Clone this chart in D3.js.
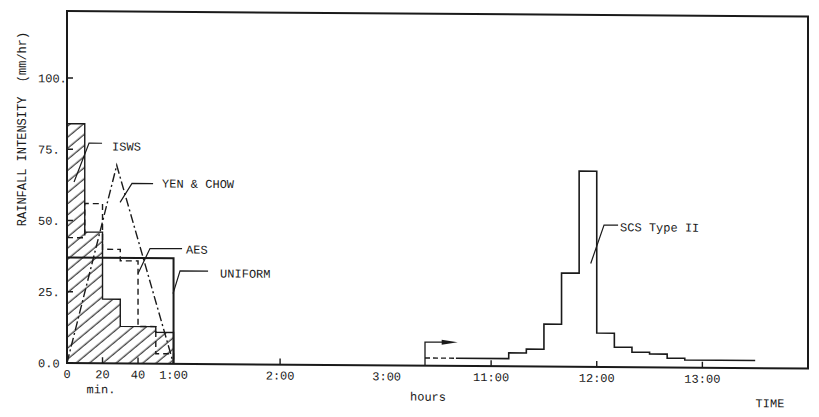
<!DOCTYPE html>
<html>
<head>
<meta charset="utf-8">
<script src="https://cdn.jsdelivr.net/npm/d3@7"></script>
<style>
  html, body { margin: 0; padding: 0; background: #fff; }
  svg { display: block; }
  text { font-family: "Liberation Mono", "DejaVu Sans Mono", monospace; fill: #1a1a1a; white-space: pre; }
</style>
</head>
<body>
<svg id="chart" width="819" height="417"></svg>
<script>
// ---------------- DATA ----------------
// y axis
const yTickValues = [0, 25, 50, 75, 100];
const yTickLabels = ["0.0", "25.", "50.", "75.", "100."];
// x axis (time in hours; a break separates 3:22 and 10:22)
const xTickValues = [0, 1/3, 2/3, 1, 2, 3, 11, 12, 13];
const xTickLabels = ["0", "20", "40", "1:00", "2:00", "3:00", "11:00", "12:00", "13:00"];
const xTickMarks  = [1/3, 2/3, 2, 11, 12, 13];
const axisBreak = [3.36, 10.374];   // hours where the time axis jumps

// ISWS hyetograph (minutes, mm/hr)
const iswsEdges  = [0, 10, 20, 30, 50, 60];
const iswsValues = [84, 46, 22.5, 13, 11];
// AES hyetograph
const aesEdges  = [0, 10, 20, 30, 40, 50, 60];
const aesValues = [44, 56, 40, 36, 13, 3.5];
// Yen & Chow triangular hyetograph
const yenTimes  = [0, 28, 60];
const yenValues = [0, 69.5, 0];
// Uniform
const uniformEdges  = [0, 60];
const uniformValues = [37];
// SCS Type II (clock time, mm/hr)
const scsEdges  = ["10:40","11:10","11:20","11:30","11:40","11:50","12:00","12:10","12:20","12:30","12:40","12:50","13:30"];
const scsValues = [2.7, 4.7, 6.1, 14.9, 32.9, 68.7, 11.9, 7.0, 5.3, 4.7, 3.3, 2.7];
const scsLeadValue = 2.7;
const arrowHeight = 8.3;
const arrowEnd = "10:41";

// ---------------- LAYOUT ----------------
const W = 819, H = 417;
const plot = { left: 67, right: 808, top: 11, bottom: 363 };

const svg = d3.select("#chart");
svg.append("rect").attr("width", W).attr("height", H).attr("fill", "#fff");

const defs = svg.append("defs");
const pat = defs.append("pattern")
  .attr("id", "hatch").attr("patternUnits", "userSpaceOnUse")
  .attr("width", 10).attr("height", 8.5)
  .attr("patternTransform", "rotate(-40)");
pat.append("line").attr("x1", -1).attr("x2", 11).attr("y1", 4).attr("y2", 4)
  .attr("stroke", "#1a1a1a").attr("stroke-width", 1.1);

// scan-like slight skew
const g = svg.append("g")
  .attr("transform", `translate(${plot.left},0) skewY(0.43) translate(${-plot.left},0)`);

const x = d3.scaleLinear()
  .domain([0, axisBreak[0], axisBreak[1], 14.0])
  .range([plot.left, 425, 425, plot.right]);
const y = d3.scaleLinear().domain([0, 100]).range([plot.bottom, 78]);

const min = m => m / 60;
const clock = s => { const [h, m] = s.split(":").map(Number); return h + m / 60; };

function steps(edges, values, fromZero, toZero) {
  const pts = [];
  if (fromZero) pts.push([edges[0], 0]);
  values.forEach((v, i) => { pts.push([edges[i], v]); pts.push([edges[i + 1], v]); });
  if (toZero) pts.push([edges[edges.length - 1], 0]);
  return pts;
}
const line = d3.line().x(d => x(d[0])).y(d => y(d[1]));

// ISWS hatched
const iswsPts = steps(iswsEdges.map(min), iswsValues, true, true);
g.append("path").attr("d", line(iswsPts) + "Z")
  .attr("fill", "url(#hatch)").attr("stroke", "none");
g.append("path").attr("d", line(iswsPts))
  .attr("fill", "none").attr("stroke", "#1a1a1a").attr("stroke-width", 1.4);

// AES dashed
g.append("path").attr("d", line(steps(aesEdges.map(min), aesValues, false, true)))
  .attr("fill", "none").attr("stroke", "#1a1a1a").attr("stroke-width", 1.4)
  .attr("stroke-dasharray", "6,4");

// Yen & Chow dash-dot
g.append("path").attr("d", line(yenTimes.map((t, i) => [min(t), yenValues[i]])))
  .attr("fill", "none").attr("stroke", "#1a1a1a").attr("stroke-width", 1.4)
  .attr("stroke-dasharray", "9,3,2,3");

// Uniform
g.append("path").attr("d", line(steps(uniformEdges.map(min), uniformValues, false, true)))
  .attr("fill", "none").attr("stroke", "#1a1a1a").attr("stroke-width", 2);

// SCS Type II
const scsT = scsEdges.map(clock);
g.append("path").attr("d", line([[axisBreak[1], scsLeadValue], [scsT[0], scsLeadValue]]))
  .attr("fill", "none").attr("stroke", "#1a1a1a").attr("stroke-width", 1.4)
  .attr("stroke-dasharray", "5,3");
g.append("path").attr("d", line(steps(scsT, scsValues, false, false)))
  .attr("fill", "none").attr("stroke", "#1a1a1a").attr("stroke-width", 1.6);

// start arrow
const aX0 = x(axisBreak[1]), aY0 = y(0), aY1 = y(arrowHeight), aX1 = x(clock(arrowEnd));
g.append("path").attr("d", `M${aX0},${aY0}V${aY1}H${aX1 - 14}`)
  .attr("fill", "none").attr("stroke", "#1a1a1a").attr("stroke-width", 1.3);
g.append("path").attr("d", `M${aX1 - 16},${aY1 - 2.5}L${aX1},${aY1}L${aX1 - 16},${aY1 + 2.5}Z`)
  .attr("fill", "#1a1a1a");

// frame
g.append("rect").attr("x", plot.left).attr("y", plot.top)
  .attr("width", plot.right - plot.left).attr("height", plot.bottom - plot.top)
  .attr("fill", "none").attr("stroke", "#1a1a1a").attr("stroke-width", 2);

// y ticks
yTickValues.forEach((v, i) => {
  g.append("line").attr("x1", plot.left).attr("x2", plot.left + 6)
    .attr("y1", y(v)).attr("y2", y(v)).attr("stroke", "#1a1a1a").attr("stroke-width", 1.4);
  g.append("text").attr("x", 38).attr("y", y(v) + 4.5)
    .attr("font-size", 12).text(yTickLabels[i]);
});
// x ticks
xTickMarks.forEach(t => {
  g.append("line").attr("x1", x(t)).attr("x2", x(t))
    .attr("y1", plot.bottom).attr("y2", plot.bottom - 6)
    .attr("stroke", "#1a1a1a").attr("stroke-width", 1.4);
});
xTickValues.forEach((t, i) => {
  g.append("text").attr("x", x(t)).attr("y", 378)
    .attr("text-anchor", "middle").attr("font-size", 12).text(xTickLabels[i]);
});

// axis titles
g.append("text").attr("x", 101).attr("y", 393).attr("text-anchor", "middle")
  .attr("font-size", 12).text("min.");
g.append("text").attr("x", 428).attr("y", 398).attr("text-anchor", "middle")
  .attr("font-size", 12).text("hours");
g.append("text").attr("x", 770).attr("y", 402).attr("text-anchor", "middle")
  .attr("font-size", 12).text("TIME");
svg.append("text").attr("transform", "translate(26,129) rotate(-90)")
  .attr("text-anchor", "middle").attr("font-size", 12)
  .text("RAINFALL INTENSITY  (mm/hr)");

// annotations: leader polyline and text anchor (hours, mm/hr)
const notes = [
  { label: "ISWS",        p: [[0.066, 63.5], [0.207, 77.2], [0.329, 77.2]], t: [0.423, 76.3] },
  { label: "YEN & CHOW",  p: [[0.498, 56.5], [0.610, 63.2], [0.808, 63.2]], t: [0.892, 63.4] },
  { label: "AES",         p: [[0.667, 31.6], [0.779, 40.4], [1.080, 40.4]], t: [1.117, 40.3] },
  { label: "UNIFORM",     p: [[0.995, 24.6], [1.061, 32.6], [1.324, 32.6]], t: [1.437, 32.0] },
  { label: "SCS Type II", p: [[11.943, 36.3], [12.069, 49.8], [12.202, 49.8]], t: [12.221, 49.3] }
];
notes.forEach(n => {
  g.append("path").attr("d", line(n.p)).attr("fill", "none")
    .attr("stroke", "#1a1a1a").attr("stroke-width", 1.2);
  g.append("text").attr("x", x(n.t[0])).attr("y", y(n.t[1]) + 4.5)
    .attr("font-size", 12).text(n.label);
});
</script>
</body>
</html>
